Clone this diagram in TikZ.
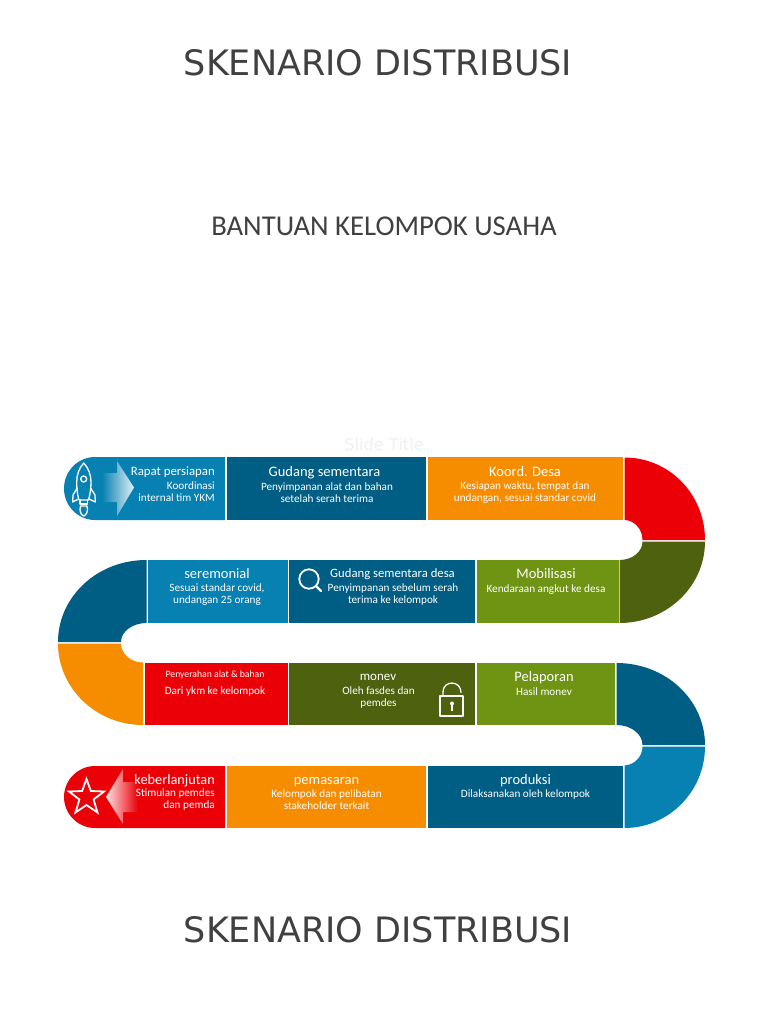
\documentclass[tikz,border=0pt]{standalone}
\usepackage{fontspec}
\setmainfont{Carlito}
\newfontfamily\dejavu{DejaVu Sans}
\definecolor{cblue}{HTML}{0780B2}
\definecolor{cdark}{HTML}{005E84}
\definecolor{corange}{HTML}{F68D00}
\definecolor{cred}{HTML}{EB0008}
\definecolor{cgreen}{HTML}{6F9414}
\definecolor{cdgreen}{HTML}{4D610F}
\definecolor{ctitle}{HTML}{404040}
\tikzset{
  head/.style={text=white,font=\fontsize{14.5}{16}\selectfont,inner sep=0pt,align=center,text height=9pt,text depth=3pt},
  headr/.style={text=white,font=\fontsize{12.8}{15}\selectfont,inner sep=0pt,anchor=east,text height=9pt,text depth=3pt},
  sub/.style={text=white,font=\fontsize{11.2}{12}\selectfont,inner sep=0pt,align=center},
  subr/.style={text=white,font=\fontsize{11.2}{12}\selectfont,inner sep=0pt,align=right,anchor=east},
  icon/.style={draw=white,line width=1.3pt,line join=round,line cap=round},
  bigtitle/.style={text=ctitle,inner sep=0pt,font=\dejavu\fontsize{35}{40}\selectfont},
}
\begin{document}
\begin{tikzpicture}[x=1pt,y=-1pt]
\useasboundingbox[fill=white] (0,0) rectangle (768,1024);
% titles
\node[bigtitle] (t1) at (378,63) {SKENARIO DISTRIBUSI};
\node[text=ctitle,inner sep=0pt,font=\fontsize{28.7}{32}\selectfont] (t2) at (384,226) {BANTUAN KELOMPOK USAHA};
\node[text=black!6,inner sep=0pt,font=\dejavu\fontsize{16.2}{18}\selectfont] (t3) at (384,444) {Slide Title};
\node[bigtitle] (t4) at (378,930) {SKENARIO DISTRIBUSI};
% row 1
\fill[cblue] (225,457) -- (95,457) .. controls (78,457) and (64,471) .. (64,488.5) .. controls (64,506) and (78,520) .. (95,520) -- (225,520) -- cycle;
\fill[cdark] (226.5,457) rectangle (426,520);
\fill[corange] (427.5,457) rectangle (623,520);
\fill[cred] (624.5,457.5) .. controls (669,457.5) and (705,494) .. (705,540) -- (642.5,540) .. controls (642.5,529) and (634,520) .. (624.5,520) -- cycle;
% row 2
\fill[cdgreen] (705,541.5) .. controls (705,587) and (666,623) .. (619.5,623) -- (619.5,560) .. controls (632,560) and (642.5,552) .. (642.5,541.5) -- cycle;
\fill[cgreen] (476.5,560) rectangle (618.5,623);
\fill[cdark] (289,560) rectangle (475,623);
\fill[cblue] (148,560) rectangle (287.5,623);
\fill[cdark] (146.5,560) .. controls (97,560) and (58,597) .. (58,642) -- (121,642) .. controls (121,631) and (133,623) .. (146.5,623) -- cycle;
% row 3
\fill[corange] (58,643.5) .. controls (58,688) and (96,725) .. (143,725) -- (143,662.5) .. controls (131,662.5) and (121,654) .. (121,643.5) -- cycle;
\fill[cred] (144.5,662.5) rectangle (287.5,725);
\fill[cdgreen] (289,662.5) rectangle (475,725);
\fill[cgreen] (476.5,662.5) rectangle (615,725);
\fill[cdark] (616.5,663) .. controls (666,663) and (705,700) .. (705,745) -- (642.5,745) .. controls (642.5,734) and (631,725) .. (616.5,725) -- cycle;
% row 4
\fill[cblue] (705,746.5) .. controls (705,791) and (669,828) .. (624.5,828) -- (624.5,765.5) .. controls (634,765) and (642.5,757) .. (642.5,746.5) -- cycle;
\fill[cdark] (427.5,766) rectangle (623,828);
\fill[corange] (226.5,766) rectangle (426,828);
\fill[cred] (225,766) -- (95,766) .. controls (78,766) and (64,780) .. (64,797) .. controls (64,814) and (78,828) .. (95,828) -- (225,828) -- cycle;
% gradient arrows
\shade[left color=cblue,right color=white!88!cblue]
  (102,473) -- (117,473) -- (117,461) -- (134,487.5) -- (117,516) -- (117,502) -- (102,502) -- cycle;
\shade[left color=white!88!cred,right color=cred]
  (138,782) -- (123,782) -- (123,769) -- (106,797) -- (123,824) -- (123,812) -- (138,812) -- cycle;
% rocket
\draw[icon] (83.7,463) .. controls (79,468) and (76.7,475) .. (76.7,482) .. controls (76.7,489) and (77.5,495) .. (79,500) -- (88.5,500) .. controls (90,495) and (91,489) .. (91,482) .. controls (91,475) and (88.5,468) .. (83.7,463) -- cycle;
\draw[icon] (83.7,479) circle[radius=3];
\draw[icon] (77.2,488) -- (73,495) -- (72.7,502) -- (78.5,499);
\draw[icon] (90.5,488) -- (95,495) -- (95.3,502) -- (89,499);
\draw[icon] (80,500) -- (80,504) -- (87.5,504) -- (87.5,500);
\draw[icon] (80.5,506) .. controls (79,511) and (81,515) .. (83.7,516) .. controls (86.5,515) and (88.5,511) .. (87,506) -- cycle;
% magnifier
\draw[icon,line width=1.8pt] (309,579) circle[radius=9.7];
\draw[icon,line width=2.4pt] (316,586) -- (321,591);
% lock
\draw[icon] (440,696) rectangle (463,716);
\draw[icon] (443,696) -- (443,692) .. controls (443,680) and (461,680) .. (461,692.5);
\fill[white] (452,703.5) circle[radius=2];
\draw[white,line width=1.2pt] (452,704) -- (452,711);
% star
\draw[draw=white,line width=1.8pt,miter limit=8] (86.5,779) -- (90.9,791) -- (104,791.5) -- (93.6,799.5) -- (97.5,812.5) -- (86.5,805) -- (75.5,812.5) -- (79.4,799.5) -- (69,791.5) -- (82.1,791) -- cycle;
% row 1 texts
\node[headr] (a1) at (215,472) {Rapat persiapan};
\node[subr] (a2) at (215,492) {Koordinasi\\internal tim YKM};
\node[head] (b1) at (324.5,473) {Gudang sementara};
\node[sub] (b2) at (327,492.5) {Penyimpanan alat dan bahan\\setelah serah terima};
\node[head] (c1) at (525,473) {Koord. Desa};
\node[sub] (c2) at (525,492.5) {Kesiapan waktu, tempat dan\\undangan, sesuai standar covid};
% row 2 texts
\node[head] (d1) at (217,575) {seremonial};
\node[sub] (d2) at (217,594.5) {Sesuai standar covid,\\undangan 25 orang};
\node[text=white,inner sep=0pt,font=\fontsize{12.7}{14}\selectfont,text height=9pt,text depth=3pt] (e1) at (392.5,574.5) {Gudang sementara desa};
\node[sub] (e2) at (393,595) {Penyimpanan sebelum serah\\terima ke kelompok};
\node[head] (f1) at (546,575) {Mobilisasi};
\node[sub] (f2) at (546,589.5) {Kendaraan angkut ke desa};
% row 3 texts
\node[text=white,inner sep=0pt,font=\fontsize{9.7}{10}\selectfont] (g1) at (215,675) {Penyerahan alat \& bahan};
\node[sub] (g2) at (215,691.5) {Dari ykm ke kelompok};
\node[text=white,inner sep=0pt,font=\fontsize{13}{15}\selectfont,text height=9pt,text depth=3pt] (h1) at (378,677) {monev};
\node[sub] (h2) at (378.5,697.5) {Oleh fasdes dan\\pemdes};
\node[head] (i1) at (544,678) {Pelaporan};
\node[sub] (i2) at (544,691.5) {Hasil monev};
% row 4 texts
\node[headr,font=\fontsize{14.3}{16}\selectfont] (j1) at (215,781) {keberlanjutan};
\node[subr] (j2) at (215,800) {Stimulan pemdes\\dan pemda};
\node[head] (k1) at (326.5,781) {pemasaran};
\node[sub] (k2) at (326.5,800) {Kelompok dan pelibatan\\stakeholder terkait};
\node[head] (l1) at (525.5,781.5) {produksi};
\node[sub] (l2) at (525.5,794.5) {Dilaksanakan oleh kelompok};
\end{tikzpicture}
\end{document}
